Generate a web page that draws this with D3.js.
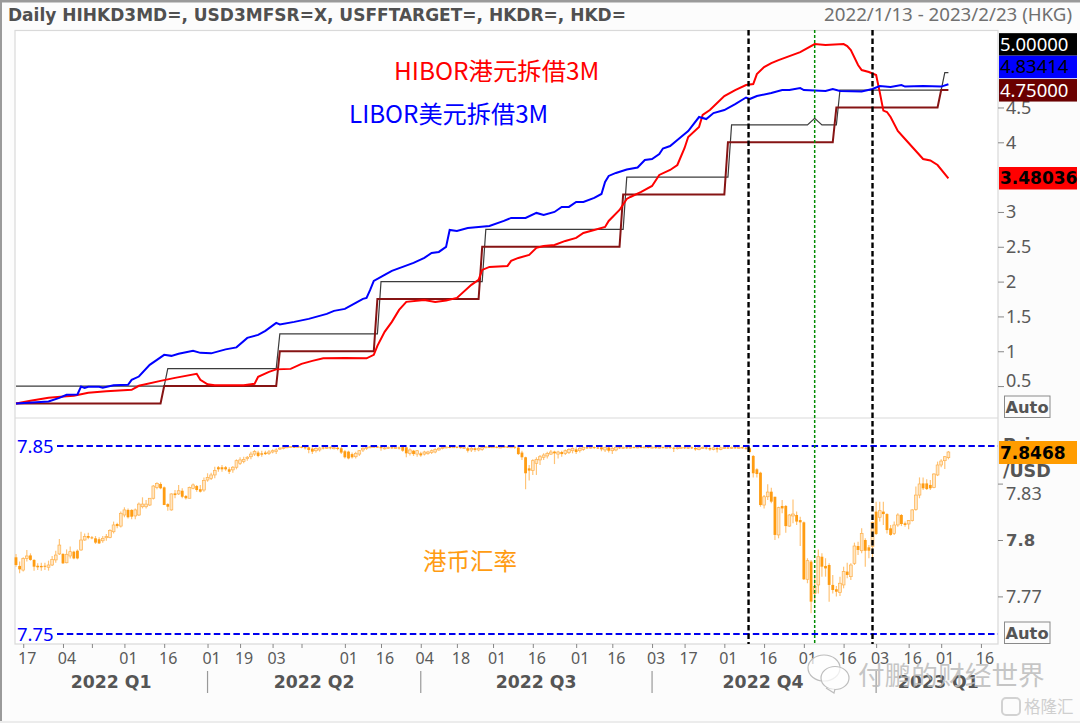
<!DOCTYPE html>
<html>
<head>
<meta charset="utf-8">
<script src="https://cdnjs.cloudflare.com/ajax/libs/d3/7.8.5/d3.min.js"></script>
<style>
body { margin: 0; background: #fcfcfc; overflow: hidden; }
text { font-family: "Noto Sans", sans-serif; }
.heavy { font-family: "DejaVu Sans", sans-serif; font-weight: bold; }
</style>
</head>
<body>
<svg id="chart" width="1080" height="723"></svg>
<script>
// x is trading day number, 0 = 2022/1/13
// HIBOR 3M
var hiborDay = [0,4,9,14,16,20,25,32,34,40,44,50,51,53,55,63,66,67,70,72,76,79,82,85,91,97,99,100,102,104,106,108,113,116,119,122,126,128,129,131,136,137,139,142,144,146,149,152,155,157,160,163,164,167,169,170,173,176,178,181,183,185,186,189,190,192,194,196,199,202,204,205,207,209,211,217,221,224,229,230,231,233,234,236,238,239,240,241,242,244,246,249,251,253,255,258];
var hiborRate = [0.25,0.288,0.331,0.353,0.36,0.403,0.425,0.446,0.504,0.575,0.618,0.676,0.59,0.525,0.511,0.511,0.532,0.633,0.705,0.74,0.747,0.819,0.862,0.898,0.905,0.898,0.948,1.078,1.278,1.422,1.594,1.709,1.737,1.709,1.73,1.766,1.953,2.024,2.168,2.211,2.225,2.297,2.34,2.383,2.484,2.512,2.527,2.584,2.627,2.699,2.742,2.785,2.871,3.029,3.187,3.215,3.287,3.373,3.531,3.603,3.674,3.918,4.076,4.22,4.392,4.463,4.564,4.664,4.75,4.822,4.836,4.98,5.08,5.137,5.18,5.295,5.41,5.396,5.41,5.382,5.324,5.109,5.037,5.009,4.965,4.72,4.455,4.435,4.363,4.162,4.047,3.875,3.76,3.739,3.674,3.48036];
// LIBOR 3M
var liborDay = [0,9,12,14,17,18,19,20,23,24,27,31,32,34,37,39,41,43,45,49,51,54,58,61,64,67,69,72,73,77,81,86,88,91,94,96,97,98,99,102,104,107,110,113,115,117,119,120,122,125,128,131,135,137,141,144,146,149,151,153,155,157,160,162,163,164,166,169,172,174,176,178,179,181,184,186,189,191,193,196,199,202,203,205,209,212,214,217,218,224,226,228,234,237,239,242,245,246,251,256,258];
var liborRate = [0.25,0.278,0.331,0.374,0.379,0.494,0.475,0.489,0.489,0.475,0.511,0.518,0.59,0.637,0.805,0.877,0.948,0.934,0.963,1.006,0.977,0.97,1.027,1.056,1.192,1.235,1.293,1.407,1.386,1.422,1.465,1.537,1.58,1.608,1.694,1.752,1.766,1.881,2.01,2.096,2.154,2.211,2.268,2.34,2.412,2.426,2.498,2.742,2.728,2.77,2.785,2.799,2.871,2.914,2.914,2.986,2.957,3.0,3.072,3.072,3.143,3.143,3.201,3.258,3.43,3.517,3.56,3.61,3.638,3.746,3.76,3.832,3.911,3.947,4.076,4.162,4.363,4.334,4.42,4.463,4.549,4.643,4.621,4.664,4.707,4.75,4.75,4.779,4.75,4.736,4.765,4.736,4.729,4.765,4.808,4.793,4.822,4.80,4.808,4.80,4.83414];
// fed funds target, drawn as steps
var fedDay = [0,40,41,72,73,99,100,128,129,167,168,196,197,226,227,255,256,258];
var fedRate = [0.25,0.25,0.5,0.5,1,1,1.75,1.75,2.5,2.5,3.25,3.25,4,4,4.5,4.5,4.75,4.75];
// HK base rate, thin line
var baseDay = [0,41,42,72,73,100,101,129,130,168,169,197,198,219,221,223,227,228,256,257,258];
var baseRate = [0.5,0.5,0.75,0.75,1.25,1.25,2,2,2.75,2.75,3.5,3.5,4.25,4.25,4.344,4.25,4.25,4.75,4.75,5,5];

// USD/HKD daily candles
var fxOpen = [7.7908,7.7862,7.7840,7.7902,7.7918,7.7894,7.7863,7.7862,7.7863,7.7855,
7.7867,7.7894,7.7926,7.7926,7.7879,7.7915,7.7938,7.7943,7.7947,7.8000,
7.8021,7.8014,7.8009,7.8004,7.7996,7.8012,7.8014,7.8044,7.8085,7.8074,
7.8133,7.8160,7.8160,7.8128,7.8133,7.8177,7.8177,7.8186,7.8222,7.8280,
7.8298,7.8280,7.8191,7.8160,7.8248,7.8245,7.8262,7.8234,7.8222,7.8275,
7.8287,7.8270,7.8266,7.8319,7.8328,7.8346,7.8387,7.8387,7.8387,7.8376,
7.8373,7.8387,7.8408,7.8417,7.8433,7.8443,7.8457,7.8465,7.8461,7.8465,
7.8461,7.8468,7.8470,7.8484,7.8488,7.8492,7.8495,7.8496,7.8495,7.8496,
7.8494,7.8493,7.8486,7.8475,7.8479,7.8492,7.8490,7.8493,7.8488,7.8491,
7.8488,7.8472,7.8470,7.8457,7.8443,7.8457,7.8479,7.8488,7.8493,7.8496,
7.8497,7.8495,7.8488,7.8490,7.8493,7.8490,7.8492,7.8496,7.8493,7.8461,
7.8475,7.8457,7.8461,7.8457,7.8461,7.8465,7.8468,7.8479,7.8488,7.8493,
7.8495,7.8493,7.8496,7.8494,7.8491,7.8488,7.8479,7.8488,7.8479,7.8482,
7.8493,7.8496,7.8494,7.8496,7.8493,7.8495,7.8497,7.8494,7.8496,7.8492,
7.8465,7.8440,7.8381,7.8369,7.8408,7.8426,7.8440,7.8447,7.8457,7.8470,
7.8457,7.8468,7.8461,7.8465,7.8475,7.8482,7.8475,7.8482,7.8493,7.8491,
7.8494,7.8492,7.8493,7.8479,7.8493,7.8475,7.8479,7.8493,7.8490,7.8493,
7.8491,7.8494,7.8492,7.8495,7.8493,7.8495,7.8492,7.8494,7.8491,7.8494,
7.8492,7.8494,7.8491,7.8488,7.8491,7.8493,7.8490,7.8493,7.8490,7.8482,
7.8490,7.8492,7.8489,7.8482,7.8490,7.8482,7.8490,7.8492,7.8489,7.8493,
7.8490,7.8493,7.8491,7.8488,7.8447,7.8376,7.8358,7.8186,7.8230,7.8257,
7.8230,7.8027,7.8181,7.8181,7.8074,7.8128,7.8133,7.8106,7.8094,7.7791,
7.7885,7.7716,7.7761,7.7911,7.7862,7.7867,7.7761,7.7738,7.7720,7.7761,
7.7832,7.7805,7.7876,7.7968,7.7943,7.8000,7.7961,7.7965,7.8151,7.8121,
7.8151,7.8138,7.8062,7.8035,7.8080,7.8133,7.8089,7.8085,7.8103,7.8163,
7.8239,7.8301,7.8301,7.8293,7.8280,7.8346,7.8399,7.8422,7.8438];
var fxClose = [7.7867,7.7844,7.7902,7.7915,7.7894,7.7858,7.7855,7.7855,7.7858,7.7867,
7.7897,7.7920,7.7973,7.7876,7.7924,7.7938,7.7902,7.7902,7.8000,7.8018,
7.8012,7.8009,7.7986,7.7982,7.8009,7.8018,7.8050,7.8080,7.8074,7.8142,
7.8160,7.8121,7.8124,7.8160,7.8191,7.8191,7.8191,7.8222,7.8287,7.8301,
7.8275,7.8186,7.8177,7.8245,7.8239,7.8262,7.8230,7.8222,7.8280,7.8293,
7.8266,7.8257,7.8316,7.8333,7.8346,7.8369,7.8376,7.8376,7.8376,7.8363,
7.8387,7.8422,7.8426,7.8429,7.8440,7.8457,7.8470,7.8447,7.8454,7.8457,
7.8468,7.8475,7.8479,7.8489,7.8493,7.8496,7.8497,7.8495,7.8497,7.8494,
7.8488,7.8479,7.8470,7.8486,7.8489,7.8488,7.8493,7.8488,7.8491,7.8484,
7.8465,7.8440,7.8434,7.8440,7.8461,7.8475,7.8488,7.8493,7.8496,7.8497,
7.8495,7.8488,7.8490,7.8493,7.8490,7.8492,7.8489,7.8475,7.8461,7.8479,
7.8457,7.8475,7.8450,7.8468,7.8468,7.8475,7.8482,7.8488,7.8493,7.8495,
7.8493,7.8496,7.8494,7.8491,7.8493,7.8475,7.8488,7.8479,7.8488,7.8493,
7.8496,7.8494,7.8496,7.8493,7.8495,7.8497,7.8494,7.8496,7.8492,7.8457,
7.8440,7.8355,7.8369,7.8422,7.8429,7.8443,7.8452,7.8461,7.8468,7.8461,
7.8468,7.8457,7.8475,7.8482,7.8488,7.8468,7.8488,7.8493,7.8491,7.8494,
7.8492,7.8490,7.8482,7.8493,7.8475,7.8488,7.8493,7.8490,7.8493,7.8491,
7.8494,7.8492,7.8495,7.8493,7.8495,7.8492,7.8494,7.8491,7.8494,7.8492,
7.8494,7.8491,7.8488,7.8491,7.8493,7.8490,7.8493,7.8490,7.8482,7.8490,
7.8492,7.8489,7.8482,7.8490,7.8482,7.8490,7.8492,7.8489,7.8493,7.8490,
7.8493,7.8491,7.8488,7.8468,7.8355,7.8351,7.8186,7.8230,7.8255,7.8204,
7.8027,7.8172,7.8168,7.8074,7.8133,7.8138,7.8098,7.8094,7.7791,7.7890,
7.7672,7.7752,7.7911,7.7858,7.7849,7.7761,7.7734,7.7725,7.7770,7.7832,
7.7814,7.7867,7.7968,7.7947,7.8035,7.7943,7.7943,7.8094,7.8032,7.8156,
7.8138,7.8053,7.8027,7.8080,7.8133,7.8085,7.8080,7.8103,7.8160,7.8239,
7.8298,7.8275,7.8271,7.8275,7.8351,7.8399,7.8420,7.8443,7.8468];
var fxHigh = [7.7926,7.7885,7.7908,7.7947,7.7929,7.7897,7.7876,7.7879,7.7879,7.7890,
7.7915,7.7943,7.8005,7.7929,7.7950,7.7965,7.7943,7.7950,7.8044,7.8035,
7.8039,7.8021,7.8021,7.8014,7.8021,7.8032,7.8057,7.8098,7.8092,7.8151,
7.8174,7.8168,7.8163,7.8168,7.8199,7.8227,7.8213,7.8222,7.8293,7.8307,
7.8307,7.8284,7.8195,7.8248,7.8266,7.8293,7.8275,7.8239,7.8284,7.8301,
7.8293,7.8293,7.8333,7.8355,7.8358,7.8390,7.8394,7.8399,7.8394,7.8387,
7.8394,7.8429,7.8440,7.8443,7.8447,7.8470,7.8479,7.8475,7.8475,7.8475,
7.8479,7.8482,7.8488,7.8493,7.8496,7.8499,7.8499,7.8499,7.8499,7.8499,
7.8499,7.8496,7.8493,7.8493,7.8496,7.8498,7.8498,7.8498,7.8497,7.8496,
7.8496,7.8479,7.8475,7.8465,7.8470,7.8479,7.8493,7.8496,7.8499,7.8499,
7.8499,7.8499,7.8497,7.8497,7.8497,7.8497,7.8497,7.8500,7.8496,7.8488,
7.8479,7.8479,7.8470,7.8475,7.8475,7.8482,7.8488,7.8493,7.8496,7.8498,
7.8498,7.8499,7.8499,7.8498,7.8497,7.8496,7.8496,7.8493,7.8496,7.8496,
7.8499,7.8499,7.8499,7.8499,7.8498,7.8499,7.8499,7.8499,7.8499,7.8499,
7.8475,7.8443,7.8399,7.8429,7.8440,7.8452,7.8461,7.8470,7.8479,7.8475,
7.8475,7.8475,7.8482,7.8488,7.8493,7.8493,7.8496,7.8496,7.8497,7.8498,
7.8498,7.8497,7.8496,7.8496,7.8496,7.8496,7.8496,7.8497,7.8497,7.8497,
7.8498,7.8498,7.8498,7.8498,7.8498,7.8498,7.8498,7.8498,7.8498,7.8498,
7.8497,7.8497,7.8496,7.8496,7.8497,7.8497,7.8497,7.8497,7.8496,7.8496,
7.8497,7.8497,7.8495,7.8496,7.8495,7.8496,7.8497,7.8497,7.8497,7.8497,
7.8497,7.8497,7.8497,7.8493,7.8452,7.8381,7.8363,7.8239,7.8296,7.8278,
7.8230,7.8177,7.8213,7.8186,7.8138,7.8216,7.8151,7.8124,7.8098,7.7903,
7.7894,7.7805,7.7950,7.7929,7.7903,7.7876,7.7814,7.7755,7.7805,7.7858,
7.7879,7.7876,7.7986,7.7991,7.8062,7.8009,7.7973,7.8098,7.8204,7.8204,
7.8204,7.8142,7.8080,7.8098,7.8142,7.8138,7.8098,7.8106,7.8163,7.8284,
7.8333,7.8333,7.8323,7.8319,7.8355,7.8417,7.8429,7.8447,7.8473];
var fxLow = [7.7858,7.7823,7.7832,7.7885,7.7890,7.7837,7.7840,7.7837,7.7840,7.7837,
7.7862,7.7879,7.7920,7.7872,7.7876,7.7902,7.7897,7.7897,7.7943,7.7996,
7.8004,7.8004,7.7979,7.7979,7.7986,7.7996,7.8009,7.8035,7.8062,7.8067,
7.8121,7.8115,7.8110,7.8110,7.8128,7.8168,7.8168,7.8181,7.8216,7.8270,
7.8270,7.8186,7.8156,7.8156,7.8222,7.8239,7.8222,7.8216,7.8222,7.8270,
7.8257,7.8252,7.8257,7.8310,7.8319,7.8328,7.8363,7.8363,7.8369,7.8351,
7.8358,7.8376,7.8399,7.8408,7.8422,7.8429,7.8447,7.8440,7.8443,7.8452,
7.8452,7.8461,7.8457,7.8479,7.8482,7.8488,7.8490,7.8490,7.8491,7.8488,
7.8482,7.8461,7.8457,7.8465,7.8470,7.8482,7.8484,7.8482,7.8482,7.8477,
7.8457,7.8434,7.8429,7.8434,7.8434,7.8447,7.8468,7.8479,7.8488,7.8491,
7.8491,7.8475,7.8482,7.8484,7.8484,7.8484,7.8482,7.8470,7.8440,7.8450,
7.8447,7.8443,7.8443,7.8450,7.8454,7.8457,7.8461,7.8475,7.8482,7.8488,
7.8488,7.8489,7.8488,7.8486,7.8484,7.8465,7.8468,7.8470,7.8472,7.8475,
7.8488,7.8489,7.8490,7.8488,7.8488,7.8490,7.8490,7.8489,7.8486,7.8452,
7.8426,7.8270,7.8316,7.8346,7.8346,7.8399,7.8426,7.8434,7.8452,7.8404,
7.8434,7.8443,7.8452,7.8457,7.8461,7.8457,7.8465,7.8475,7.8484,7.8486,
7.8486,7.8484,7.8472,7.8468,7.8465,7.8457,7.8472,7.8484,7.8484,7.8486,
7.8486,7.8488,7.8488,7.8488,7.8489,7.8487,7.8488,7.8486,7.8487,7.8488,
7.8488,7.8486,7.8468,7.8482,7.8486,7.8484,7.8484,7.8484,7.8475,7.8477,
7.8484,7.8482,7.8475,7.8477,7.8465,7.8477,7.8484,7.8484,7.8484,7.8485,
7.8485,7.8486,7.8480,7.8462,7.8333,7.8333,7.8177,7.8168,7.8213,7.8195,
7.8000,7.8009,7.8142,7.8039,7.8071,7.8089,7.8080,7.7968,7.7787,7.7770,
7.7610,7.7663,7.7716,7.7805,7.7805,7.7672,7.7716,7.7699,7.7702,7.7743,
7.7796,7.7787,7.7867,7.7920,7.7929,7.7858,7.7903,7.7903,7.8027,7.8098,
7.8080,7.8035,7.8023,7.8027,7.8071,7.8074,7.8071,7.8057,7.8098,7.8156,
7.8222,7.8266,7.8266,7.8266,7.8275,7.8340,7.8387,7.8378,7.8429];

// axis ticks
var tickDays = [2,13,21,30,41,53,62,71,79,91,101,112,122,132,143,155,165,176,185,196,207,218,229,238,247,256,267];
var tickLabels = ["17","04","","01","16","01","19","03","","01","16","04","18","01","16","01","16","03","17","01","16","01","16","03","16","01","16"];
var quarterNames = ["2022 Q1","2022 Q2","2022 Q3","2022 Q4","2023 Q1"];
var quarterCentres = [26.3,82.5,143.9,206.7,255.2];
var quarterBreaks = [53,112,176,238];
var rateTicks = [0.5,1,1.5,2,2.5,3,4,4.5];
var fxTicks = [7.77,7.8,7.83];
var fxBands = [7.85,7.75];
var blackDays = [202.7,237];
var greenDays = [221];
// last value boxes, top to bottom
var lastValues = ["5.00000","4.83414","4.75000","3.48036"];
var lastValueAt = [5,4.83414,4.75,3.48036];

var svg = d3.select("#chart");

var x = d3.scaleLinear().domain([0,272]).range([16,999]);
var yRate = d3.scaleLinear().domain([0.25,4]).range([403.5,142.3]);
var yFx = d3.scaleLinear().domain([7.75,7.85]).range([634,446]);

// window edge and panes
svg.append("rect").attr("x",0).attr("y",0).attr("width",1080).attr("height",2.5).attr("fill","#9a9a9a");
svg.append("rect").attr("x",0).attr("y",0).attr("width",2).attr("height",723).attr("fill","#9a9a9a");
svg.append("rect").attr("x",0).attr("y",721).attr("width",1080).attr("height",2).attr("fill","#ececec");
svg.append("rect").attr("x",15).attr("y",30.5).attr("width",983).attr("height",613.5)
    .attr("fill","#ffffff").attr("stroke","#d9d9d9").attr("stroke-width",1.2);
svg.append("line").attr("x1",15).attr("x2",998).attr("y1",418).attr("y2",418)
    .attr("stroke","#d9d9d9").attr("stroke-width",1.2);

// title
svg.append("text").attr("class","heavy").attr("x",8).attr("y",21).attr("font-size",17)
    .attr("fill","#505050").text("Daily HIHKD3MD=, USD3MFSR=X, USFFTARGET=, HKDR=, HKD=");
svg.append("text").attr("x",1072).attr("y",21).attr("text-anchor","end").attr("font-size",18.7)
    .attr("fill","#707070").text("2022/1/13 - 2023/2/23 (HKG)");

// candles
var candles = svg.append("g");
d3.range(fxOpen.length).forEach(function(i){
    var up = fxClose[i] > fxOpen[i];
    candles.append("line")
        .attr("x1",x(i)).attr("x2",x(i))
        .attr("y1",yFx(fxHigh[i])).attr("y2",yFx(fxLow[i]))
        .attr("stroke","#ffc478").attr("stroke-width",1.2);
    var top = yFx(Math.max(fxOpen[i],fxClose[i]));
    var h = Math.abs(yFx(fxOpen[i]) - yFx(fxClose[i]));
    candles.append("rect")
        .attr("x",x(i) - 1.4).attr("y",top).attr("width",2.8).attr("height",Math.max(h,1))
        .attr("fill",up ? "#ffe6c4" : "#ff9c12")
        .attr("stroke",up ? "#ffb04a" : "none").attr("stroke-width",0.7);
});

// rate lines
var line = d3.line().x(function(d){ return x(d[0]); }).y(function(d){ return yRate(d[1]); });
function drawRate(days, rates, colour, width){
    svg.append("path").datum(d3.zip(days, rates)).attr("d",line)
        .attr("fill","none").attr("stroke",colour).attr("stroke-width",width);
}
drawRate(baseDay, baseRate, "#3c3c3c", 1.2);
drawRate(fedDay, fedRate, "#861414", 2);
drawRate(hiborDay, hiborRate, "#ff0000", 2);
drawRate(liborDay, liborRate, "#0000ff", 2);

// blue dashed bands
fxBands.forEach(function(b){
    svg.append("line").attr("x1",57).attr("x2",998).attr("y1",yFx(b)).attr("y2",yFx(b))
        .attr("stroke","#0000ee").attr("stroke-width",2).attr("stroke-dasharray","6.5,3.3");
    svg.append("text").attr("x",17).attr("y",yFx(b) + 7).attr("font-size",18.5)
        .attr("fill","#0000ff").text(b.toFixed(2));
});

// event lines
blackDays.forEach(function(d){
    svg.append("line").attr("x1",x(d)).attr("x2",x(d)).attr("y1",30).attr("y2",644)
        .attr("stroke","#000").attr("stroke-width",2.4).attr("stroke-dasharray","5.5,3");
});
greenDays.forEach(function(d){
    svg.append("line").attr("x1",x(d)).attr("x2",x(d)).attr("y1",30).attr("y2",644)
        .attr("stroke","#008a00").attr("stroke-width",1.5).attr("stroke-dasharray","3,2");
});

// annotations
svg.append("text").attr("x",394).attr("y",80).attr("font-size",24.4).attr("fill","#ff0000")
    .style("font-family","'Noto Sans CJK SC'").text("HIBOR港元拆借3M");
svg.append("text").attr("x",349).attr("y",123).attr("font-size",24.2).attr("fill","#0000ff")
    .style("font-family","'Noto Sans CJK SC'").text("LIBOR美元拆借3M");
svg.append("text").attr("x",423).attr("y",570).attr("font-size",23.5).attr("fill","#ff9c12")
    .style("font-family","'Noto Sans CJK SC'").text("港币汇率");

// bottom time axis
var xAxis = d3.axisBottom(x).tickValues(tickDays).tickSize(4).tickPadding(5)
    .tickFormat(function(d,i){ return tickLabels[i]; });
var gx = svg.append("g").attr("transform","translate(0,644)").call(xAxis);
gx.select(".domain").remove();
gx.selectAll("line").attr("stroke","#888");
gx.selectAll("text").attr("font-size",16).attr("fill","#5a5a5a").attr("font-family",null).attr("dx",3.5);

quarterNames.forEach(function(q,i){
    svg.append("text").attr("class","heavy").attr("x",x(quarterCentres[i])).attr("y",688).attr("text-anchor","middle")
        .attr("font-size",17.3).attr("fill","#555").text(q);
});
quarterBreaks.forEach(function(d){
    svg.append("line").attr("x1",x(d)).attr("x2",x(d)).attr("y1",671).attr("y2",693)
        .attr("stroke","#999").attr("stroke-width",1.2);
});

// right axes
var rAxis = d3.axisRight(yRate).tickValues(rateTicks).tickSize(6).tickPadding(2)
    .tickFormat(function(d){ return String(d); });
var gr = svg.append("g").attr("transform","translate(998,0)").call(rAxis);
gr.select(".domain").remove();
gr.selectAll("line").attr("stroke","#888");
gr.selectAll("text").attr("font-size",18).attr("fill","#5a5a5a")
    .attr("dy",function(d){ return d == 0.5 ? "0.05em" : "0.32em"; });

svg.append("text").attr("class","heavy").attr("x",1003).attr("y",451).attr("font-size",17.5).attr("fill","#555").text("Price");
svg.append("text").attr("class","heavy").attr("x",1003).attr("y",477).attr("font-size",17.5).attr("fill","#555").text("/USD");

var fAxis = d3.axisRight(yFx).tickValues(fxTicks).tickSize(5).tickPadding(3)
    .tickFormat(function(d){ return String(d); });
var gf = svg.append("g").attr("transform","translate(998,0)").call(fAxis);
gf.select(".domain").remove();
gf.selectAll("line").attr("stroke","#888");
gf.selectAll("text").attr("font-size",function(d){ return d == 7.8 ? 16.5 : 18; }).attr("fill","#5a5a5a")
    .attr("class",function(d){ return d == 7.8 ? "heavy" : null; })
    .attr("dy",function(d){ return d == 7.83 ? "0.9em" : "0.32em"; });

// last value boxes
var boxFill = ["#000000","#0000ff","#6a0000","#ff0000"];
var boxText = ["#ffffff","#000000","#ffffff","#000000"];
var boxTop = [yRate(lastValueAt[0]) - 39.5, yRate(lastValueAt[1]) - 28.5, yRate(lastValueAt[2]) - 11, yRate(lastValueAt[3]) - 11.5];
lastValues.forEach(function(v,i){
    svg.append("rect").attr("x",999).attr("y",boxTop[i]).attr("width",78).attr("height",22.5).attr("fill",boxFill[i]);
    svg.append("text").attr("class",i == 3 ? "heavy" : null).attr("x",1000).attr("y",boxTop[i] + 17.5)
        .attr("font-size",i == 3 ? 17 : 18.5).attr("fill",boxText[i]).text(v);
});
svg.append("rect").attr("x",999).attr("y",441).attr("width",78).attr("height",23).attr("fill","#ff9c00");
svg.append("text").attr("class","heavy").attr("x",1000).attr("y",459).attr("font-size",17).attr("fill","#000")
    .text(fxClose[fxClose.length - 1].toFixed(4));

// auto buttons
[396,622].forEach(function(t){
    svg.append("rect").attr("x",1004.5).attr("y",t).attr("width",45.5).attr("height",21.5)
        .attr("fill","#fcfcfc").attr("stroke","#8a8a8a");
    svg.append("text").attr("class","heavy").attr("x",1027).attr("y",t + 17).attr("text-anchor","middle").attr("font-size",16.3)
        .attr("fill","#555").text("Auto");
});

// watermarks
var wm = svg.append("g").attr("fill","#fff").attr("fill-opacity",0.75).attr("stroke","#bdbdbd").attr("stroke-width",1.2);
wm.append("ellipse").attr("cx",824).attr("cy",668).attr("rx",16).attr("ry",13);
wm.append("ellipse").attr("cx",835).attr("cy",678).attr("rx",14).attr("ry",11.5);
wm.append("path").attr("d","M826 688 L834 693 L835 689");
svg.append("text").attr("x",858).attr("y",685).attr("font-size",26.7).attr("fill","#bbbbbb").attr("fill-opacity",0.85)
    .style("font-family","'Noto Sans CJK SC'").text("付鹏的财经世界");
svg.append("rect").attr("x",1002).attr("y",698).attr("width",18).attr("height",17).attr("rx",4)
    .attr("fill","none").attr("stroke","#d2d2d2").attr("stroke-width",2);
svg.append("text").attr("x",1024).attr("y",713).attr("font-size",16.5).attr("fill","#cfcfcf")
    .style("font-family","'Noto Sans CJK SC'").text("格隆汇");
</script>
</body>
</html>
